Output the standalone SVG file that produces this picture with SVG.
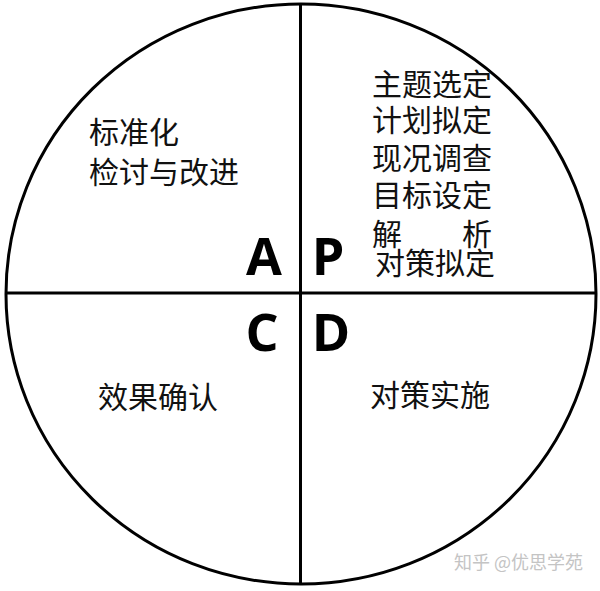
<svg xmlns="http://www.w3.org/2000/svg" width="600" height="591" viewBox="0 0 600 591">
<style>
.ln{stroke:#000;stroke-width:3;fill:none}
.big{font-family:"Open Sans","Liberation Sans",sans-serif;font-weight:bold;font-size:52px;fill:#000}
.cn{font-family:"Noto Sans CJK SC",sans-serif;font-size:30px;fill:#111}
.wm{font-family:"Noto Sans CJK SC",sans-serif;font-size:18px;fill:#c4c4c4}
</style>
<rect width="600" height="591" fill="#fff"/>
<g id="connectors">
<ellipse class="ln" cx="301" cy="294" rx="295" ry="290"/>
<line class="ln" x1="300.5" y1="4" x2="300.5" y2="584"/>
<line class="ln" x1="6" y1="293" x2="596" y2="293"/>
</g>
<g id="A">
<text class="big" x="264" y="275" text-anchor="middle">A</text>
<text class="cn" x="89" y="143">标准化</text>
<text class="cn" x="89" y="183">检讨与改进</text>
</g>
<g id="P">
<text class="big" x="328" y="275" text-anchor="middle">P</text>
<text class="cn" x="372" y="95">主题选定</text>
<text class="cn" x="372" y="131">计划拟定</text>
<text class="cn" x="372" y="169">现况调查</text>
<text class="cn" x="372" y="206">目标设定</text>
<text class="cn" x="372" y="245">解</text>
<text class="cn" x="462" y="245">析</text>
<text class="cn" x="375" y="274">对策拟定</text>
</g>
<g id="C">
<text class="big" x="262" y="351" text-anchor="middle">C</text>
<text class="cn" x="98" y="408">效果确认</text>
</g>
<g id="D">
<text class="big" x="331" y="351" text-anchor="middle">D</text>
<text class="cn" x="370" y="406">对策实施</text>
</g>
<g id="watermark">
<text class="wm" x="454" y="569">知乎 @优思学苑</text>
</g>
</svg>
